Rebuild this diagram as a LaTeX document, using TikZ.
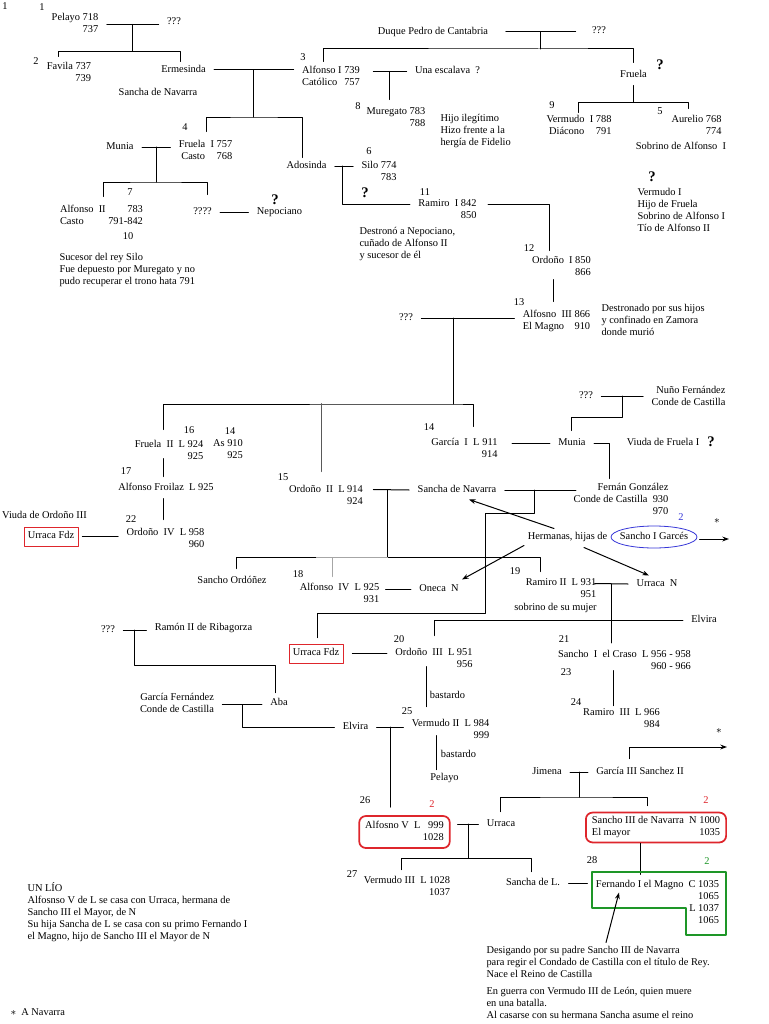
\documentclass[tikz,border=0pt]{standalone}
\usepackage{fontspec}
\setmainfont{Liberation Serif}
\usetikzlibrary{arrows.meta}
\definecolor{rojoc}{RGB}{222,38,44}
\definecolor{azulc}{RGB}{55,55,215}
\definecolor{verdec}{RGB}{30,150,40}
\newcommand{\dos}[4]{\begin{tabular}{@{}l@{\ }r@{}}#1&#2\\#3&#4\end{tabular}}
\newcommand{\der}[1]{\begin{tabular}{@{}r@{}}#1\end{tabular}}
\newcommand{\izq}[1]{\begin{tabular}{@{}l@{}}#1\end{tabular}}
\begin{document}
\begin{tikzpicture}[line cap=round,line join=round,x=0.75pt,y=-0.75pt,line width=0.75pt,
    every node/.style={font=\fontsize{7.8}{9}\selectfont},
    tx/.style={inner xsep=6pt,inner ysep=0pt,text height=6.3pt,text depth=2.7pt},
    bq/.style={inner xsep=6pt,inner ysep=0pt},
    qb/.style={inner sep=0pt,font=\fontsize{11}{12}\selectfont\bfseries},
    caja/.style={tx,draw=rojoc,line width=0.6pt,inner xsep=2.8pt,inner ysep=2.6pt},
    caja2/.style={bq,draw=rojoc,line width=1.3pt,rounded corners=5pt,inner xsep=4.5pt,inner ysep=2.2pt},
    marco/.style={draw=verdec,line width=1.3pt},
    rojo/.style={text=rojoc},azul/.style={text=azulc},verde/.style={text=verdec},
    gris1/.style={draw=black!65},gris2/.style={draw=black!35},
    flecha/.style={-{Stealth[length=5pt,width=3.6pt]}}]
\useasboundingbox (0,0) rectangle (768,1024);

% top
\node[tx] (uno) at (5,7) {1};
\node[tx] (n1) at (42,8) {1};
\node[bq] (pel) at (75,24.5) {\dos{Pelayo}{718}{}{737}};
\node[tx] (qq1) at (174,22) {???};
\node[tx] (n2) at (36,62) {2};
\node[bq] (fav) at (69,73.5) {\dos{Favila}{737}{}{739}};
\node[tx] (erm) at (183.5,70) {Ermesinda};
\node[tx] (sdn0) at (158,93) {Sancha de Navarra};
\node[tx] (n3) at (303,58) {3};
\node[bq] (alf1) at (331,77) {\dos{Alfonso I}{739}{Católico}{757}};
\node[tx] (duq) at (433,32) {Duque Pedro de Cantabria};
\node[tx] (qq2) at (599,31) {???};
\node[tx] (esc) at (447.5,71.5) {Una escalava\ \ ?};
\node[tx] (fru) at (633.5,75) {Fruela};
\node[qb] (q1) at (660,65) {?};
\node[tx] (n9) at (552,106) {9};
\node[bq] (ver1) at (579,126) {\dos{Vermudo\ \ I}{788}{\ Diácono}{791}};
\node[tx] (n5) at (660,112) {5};
\node[bq] (aur) at (696.5,126) {\dos{Aurelio}{768}{}{774}};
\node[tx] (sob1) at (681,147) {Sobrino de Alfonso\ \ I};
\node[tx] (n8) at (358,107) {8};
\node[bq] (mur) at (396,118) {\dos{Muregato}{783}{}{788}};
\node[bq,anchor=west] (hij) at (432,131) {\izq{Hijo ilegítimo\\Hizo frente a la\\hergía de Fidelio}};
\node[tx] (n4) at (185,128) {4};
\node[bq] (fru1) at (205.5,151) {\dos{Fruela\ \ I}{757}{\ Casto}{768}};
\node[tx] (mun1) at (120,147) {Munia};
\node[tx] (ado) at (306.5,166) {Adosinda};
\node[tx] (n6) at (369,152) {6};
\node[bq] (silo) at (379,172.5) {\dos{Silo}{774}{}{783}};
\node[qb] (q2) at (365,193) {?};
\node[tx] (n11) at (425,193) {11};
\node[bq] (ram1) at (447.5,210.5) {\dos{Ramiro\ \ I}{842}{}{850}};
\node[bq,anchor=west] (des1) at (351,244.5) {\izq{Destronó a Nepociano,\\cuñado de Alfonso II\\y sucesor de él}};
\node[tx] (n7) at (130,193) {7};
\node[bq] (alf2) at (101.5,216) {\dos{Alfonso\ \ II}{783}{Casto}{791-842}};
\node[tx] (n10) at (128,237) {10};
\node[tx] (q4) at (202.5,212) {????};
\node[qb] (q3) at (275,200) {?};
\node[tx] (nep) at (279.5,212) {Nepociano};
\node[bq,anchor=west] (suc) at (51,270) {\izq{Sucesor del rey Silo\\Fue depuesto por Muregato y no\\pudo recuperar el trono hata 791}};
\node[qb] (q5) at (652,177) {?};
\node[bq,anchor=west] (ver1b) at (629,211) {\izq{Vermudo I\\Hijo de Fruela\\Sobrino de Alfonso I\\Tío de Alfonso II}};
\node[tx] (n12) at (529,249) {12};
\node[bq] (ord1) at (561.5,267) {\dos{Ordoño\ \ I}{850}{}{866}};
\node[tx] (n13) at (519,303) {13};
\node[bq] (alf3) at (556.5,321) {\dos{Alfosno\ \ III}{866}{El Magno}{910}};
\node[tx] (qq3) at (406,318) {???};
\node[bq,anchor=west] (des2) at (593,321) {\izq{Destronado por sus hijos\\y confinado en Zamora\\donde murió}};

% middle
\node[tx] (n16) at (189,431) {16};
\node[bq] (fru2) at (169,451.5) {\dos{Fruela\ \ II\ \ L}{924}{}{925}};
\node[tx] (n14a) at (230,432) {14};
\node[bq] (as) at (228,450) {\dos{As}{910}{}{925}};
\node[tx] (n17) at (126,472) {17};
\node[tx] (afr) at (166,488) {Alfonso Froilaz\ \ L 925};
\node[tx] (viu1) at (44.5,516) {Viuda de Ordoño III};
\node[tx] (n22) at (131,520) {22};
\node[bq] (ord4) at (165.5,539.5) {\dos{Ordoño\ \ IV\ \ L}{958}{}{960}};
\node[caja] (urf1) at (51,536.5) {Urraca Fdz};
\node[tx] (n15) at (283,478) {15};
\node[bq] (ord2) at (326,496.5) {\dos{Ordoño\ \ II\ \ L}{914}{}{924}};
\node[tx] (n14b) at (429,428) {14};
\node[bq] (gar) at (464.5,449) {\dos{García\ \ I\ \ L}{911}{}{914}};
\node[tx] (mun2) at (572,443) {Munia};
\node[tx] (qq4) at (586,396) {???};
\node[bq] (nun) at (688.5,397) {\der{Nuño Fernández\\Conde de Castilla}};
\node[tx] (viu2) at (663,443) {Viuda de Fruela I};
\node[qb] (q6) at (711,442) {?};
\node[bq] (fer) at (621,500.5) {\der{Fernán González\\Conde de Castilla\ \ 930\\970}};
\node[tx] (sdn) at (457,490) {Sancha de Navarra};
\node[tx] (her) at (567.5,537) {Hermanas, hijas de};
\node[tx] (sig) at (654,537) {Sancho I Garcés};
\node[tx,azul] (n2b) at (681,518) {2};
\node[tx] (ast1) at (717,521) {$\ast$};
\coordinate (nav1) at (729,539);
\node[tx] (sor) at (232,581) {Sancho Ordóñez};
\node[tx] (n18) at (298,575) {18};
\node[bq] (alf4) at (339.5,594) {\dos{Alfonso\ \ IV\ \ L}{925}{}{931}};
\node[tx] (one) at (439,589) {Oneca\ \ N};
\node[tx] (n19) at (515,572) {19};
\node[bq] (ram2) at (561,589.5) {\dos{Ramiro II\ \ L}{931}{}{951}};
\node[tx] (sob2) at (555.5,608) {sobrino de su mujer};
\node[tx] (urn) at (657,584) {Urraca\ \ N};
\node[tx] (elv1) at (704,620) {Elvira};
\node[tx] (n20) at (399,640) {20};
\node[bq] (ord3) at (434,659) {\dos{Ordoño\ \ III\ \ L}{951}{}{956}};
\node[caja] (urf2) at (316,653.5) {Urraca Fdz};
\node[tx] (n21) at (564,640) {21};
\node[bq] (san1) at (624.5,661) {\dos{Sancho\ \ I\ \ el Craso\ \ L\ }{956 - 958}{}{960 - 966}};
\node[tx] (n23) at (566,673) {23};
\node[tx] (n24) at (576,703) {24};
\node[bq] (ram3) at (621.5,719) {\dos{Ramiro\ \ III\ \ L}{966}{}{984}};

% bottom
\node[tx] (qq5) at (108,630) {???};
\node[tx] (ramo) at (203.5,628) {Ramón II de Ribagorza};
\node[tx] (aba) at (279,703) {Aba};
\node[bq] (gfe) at (177,704.5) {\der{García Fernández\\Conde de Castilla}};
\node[tx] (elv2) at (355.5,727) {Elvira};
\node[tx] (bas1) at (447.5,696) {bastardo};
\node[tx] (n25) at (407,712) {25};
\node[bq] (ver2) at (450.5,730) {\dos{Vermudo II\ \ L}{984}{}{999}};
\node[tx] (bas2) at (458.5,755) {bastardo};
\node[tx] (pel2) at (444.5,778) {Pelayo};
\node[tx] (ast2) at (719,731) {$\ast$};
\coordinate (nav2) at (727,747);
\node[tx] (jim) at (547,772) {Jimena};
\node[tx] (gar3) at (640,772) {García III Sanchez II};
\node[tx,rojo] (n2c) at (706,801) {2};
\node[caja2] (san3) at (656,827.5) {\dos{Sancho III de Navarra\ \ N}{1000}{El mayor}{1035}};
\node[tx] (n26) at (365,801) {26};
\node[tx,rojo] (n2d) at (432,805) {2};
\node[caja2,inner ysep=3pt] (alf5) at (404.5,832) {\dos{Alfosno V\ \ L}{999}{}{1028}};
\node[tx] (urr) at (501,824) {Urraca};
\node[tx] (n27) at (352,875) {27};
\node[bq] (ver3) at (407,887.5) {\dos{Vermudo III\ \ L}{1028}{}{1037}};
\node[tx] (sdl) at (533,883) {Sancha de L.};
\node[tx] (n28) at (592,861) {28};
\node[tx,verde] (n2e) at (707,862) {2};
\node[bq] (fer1) at (657.5,903) {\der{Fernando I el Magno\ \ C 1035\\1065\\L 1037\\1065}};
\node[bq,anchor=west] (desig) at (478,963.5) {\izq{Desigando por su padre Sancho III de Navarra\\para regir el Condado de Castilla con el título de Rey.\\Nace el Reino de Castilla}};
\node[bq,anchor=west] (guer) at (478,1004.5) {\izq{En guerra con Vermudo III de León, quien muere\\en una batalla.\\Al casarse con su hermana Sancha asume el reino}};
\node[bq,anchor=west] (lio) at (19,912.5) {\izq{UN LÍO\\Alfosnso V de L se casa con Urraca, hermana de\\Sancho III el Mayor, de N\\Su hija Sancha de L se casa con su primo Fernando I\\el Magno, hijo de Sancho III el Mayor de N}};
\node[tx,anchor=west] (nav) at (2,1013) {$\ast$\ \ A Navarra};

% connectors
\draw (pel.east) -- (pel.east -| qq1.west) coordinate[midway] (m1);
\draw (m1) -- ++(0,27) coordinate (b1);
\draw ([shift={(-11,-4.5)}]fav.north) |- (b1) -| ([shift={(-3.5,-2)}]erm.north);
\draw (erm.east) -- (erm.east -| alf1.west) coordinate[midway] (m2);
\draw (m2) -- ++(0,47) coordinate (b2);
\draw ([shift={(1,-7)}]fru1.north) |- (b2) -| ([shift={(-4.5,-2)}]ado.north);
\draw (mun1.east) -- (mun1.east -| fru1.west) coordinate[midway] (m3);
\draw (m3) -- ++(0,35) coordinate (b3);
\draw ([shift={(1.5,-7)}]alf2.north) |- (b3) -| ([shift={(4.5,-11)}]q4.north);
\draw (q4.east) -- (q4.east -| nep.west);
\draw[shorten <=7pt,shorten >=6pt] (duq.east) -- (duq.east -| qq2.west) coordinate[midway] (m4);
\draw (m4) -- ++(0,17) coordinate (b4);
\draw ([shift={(-8,-3)}]alf1.north) |- (b4) -| ([shift={(0,-6)}]fru.north);
\draw ([shift={(5,-5.5)}]alf1.east) -- (esc.west) coordinate[midway] (m5);
\draw (m5) -- ++(0,28);
\draw ([shift={(0,4)}]fru.south) -- ++(0,17) coordinate (b5);
\draw ([shift={(-1,-1)}]ver1.north) |- (b5) -| ([shift={(-8.5,-5)}]aur.north);
\draw (ado.east) -- (ado.east -| silo.west) coordinate[pos=.4] (m6);
\draw (m6) |- ([shift={(0,-6.5)}]ram1.west);
\draw ([shift={(3,-6.5)}]ram1.east) -| ([shift={(-12,-4)}]ord1.north);
\draw ([shift={(-8.5,0)}]ord1.south) -- ([shift={(-3.5,-7)}]alf3.north);
\draw (qq3.east) -- (qq3.east -| alf3.west) coordinate[pos=.34] (m7);
\draw (m7) -- ++(0,86) coordinate (b7);
\draw ([shift={(-6,-9.5)}]fru2.north) |- (b7) -| ([shift={(8.5,-10)}]gar.north);
\draw[gris1] ([shift={(-5,-12.5)}]ord2.north) -- ++(0,-68);
\draw ([shift={(-6,-5.5)}]fru2.south) -- ([shift={(-3,-5)}]afr.north);
\draw ([shift={(-3,4)}]afr.south) -- ([shift={(-2.5,-7.5)}]ord4.north);
\draw[shorten <=3pt] (urf1.east) -- (urf1.east -| ord4.west);
\draw ([shift={(6,-6)}]gar.east) -- (mun2.west);
\draw (mun2.east) -| ([shift={(-12,-3.5)}]fer.north);
\draw (qq4.east) -- (qq4.east -| nun.west) coordinate[midway] (m8);
\draw (m8) -- ++(0,21) -| ([shift={(-1,-6)}]mun2.north);
\draw[shorten >=-8pt] (sdn.east) -- (sdn.east -| fer.west) coordinate[midway] (m9);
\draw (m9) -- ++(0,23) -| ++(-49,100) -| ([shift={(1,-6)}]urf2.north);
\draw ([shift={(2,-7)}]ord2.east) -- (sdn.west) coordinate[pos=.4] (m10);
\draw (m10) -- ++(0,68) coordinate (b10) -| ([shift={(-21,-5.5)}]ram2.north);
\draw[gris2] (b10) -- ++(-72,0) coordinate (b11);
\draw ([shift={(4,-6)}]sor.north) |- (b11);
\draw[gris2] ([shift={(-7.5,-5)}]alf4.north) -- ++(0,-19);
\draw ([shift={(-2,-5)}]alf4.east) -- (one.west);
\draw[flecha] ([shift={(-13.5,-2)}]her.north) -- ([shift={(12,3)}]sdn.south);
\draw[flecha] ([shift={(-43.5,2)}]her.south) -- ([shift={(23,-3)}]one.north);
\draw[flecha] ([shift={(16.5,4)}]her.south) -- ([shift={(-8,-2)}]urn.north);
\draw[azulc,line width=0.6pt] (sig) ellipse [x radius=32.25pt,y radius=8.25pt];
\draw[flecha] ([shift={(3,2)}]sig.east) -- (nav1);
\draw ([shift={(-10,-6)}]ram2.east) -- (urn.west) coordinate[midway] (m11);
\draw (m11) -- ++(0,59);
\draw (elv1.west) -| ([shift={(0,-11)}]ord3.north);
\draw ([shift={(9,0)}]urf2.east) -- (urf2.east -| ord3.west);
\draw ([shift={(-8,-5)}]ord3.south) -- ([shift={(-24.5,-11)}]ver2.north);
\draw ([shift={(-11.5,-3)}]san1.south) -- ([shift={(-8.5,-1)}]ram3.north);
\draw (qq5.east) -- (qq5.east -| ramo.west) coordinate[midway] (m12);
\draw (m12) -- ++(0,35) -| ([shift={(-4,-4)}]aba.north);
\draw (gfe.east) -- (gfe.east -| aba.west) coordinate[midway] (m13);
\draw (m13) |- (elv2.west);
\draw (elv2.east) -- (elv2.east -| ver2.west) coordinate[midway] (m14);
\draw[shorten >=6pt] (m14) -- (m14 |- alf5.north);
\draw ([shift={(-14.5,-7)}]ver2.south) -- ([shift={(-8.5,-2)}]pel2.north);
\draw[flecha] ([shift={(-11,-7)}]gar3.north) |- (nav2);
\draw (jim.east) -- (gar3.west) coordinate[midway] (m15);
\draw (m15) -- ++(0,25) coordinate (b15);
\draw ([shift={(-1,-6)}]urr.north) |- (b15) -| ([shift={(-9,-6)}]san3.north);
\draw ([shift={(7,-8)}]alf5.east) -- (urr.west) coordinate[midway] (m16);
\draw (m16) -- ++(0,34) coordinate (b16);
\draw ([shift={(-6,-5.5)}]ver3.north) |- (b16) -| ([shift={(-2,-5)}]sdl.north);
\draw ([shift={(-16,0)}]san3.south) -- ++(0,31);
\draw (sdl.east) -- (sdl.east -| fer1.west);
\draw[marco] (592,872) -| (726,935) -| (686,908) -- (592,908) -- cycle;
\draw[flecha] ([shift={(128,-2.5)}]desig.north west) -- ([shift={(-38.5,14)}]fer1.north);
\end{tikzpicture}
\end{document}
